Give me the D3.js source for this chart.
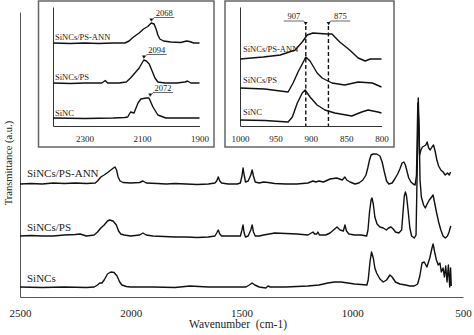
<!DOCTYPE html>
<html>
<head>
<meta charset="utf-8">
<script src="https://cdn.jsdelivr.net/npm/d3@7"></script>
<style>
  body { margin: 0; background: #fff; }
  text { font-family: "Liberation Serif", "Times New Roman", "DejaVu Serif", serif; fill: #222; }
</style>
</head>
<body>
<div id="chart"></div>
<script>
// full-range spectra, [wavenumber, transmittance a.u.]
var sincs = [[2500,10],[2400,9.5],[2300,10],[2200,9.5],[2165,10],[2150,12],[2140,14],[2130,14],[2120,17],[2105,23],[2090,25],[2075,24.5],[2062,21],[2050,15],[2040,12],[2020,10.5],[2000,10],[1900,10],[1800,9.5],[1733,11],[1650,10],[1550,10],[1480,10],[1465,12],[1452,14],[1440,12],[1420,10],[1390,9],[1380,11],[1370,10],[1300,10],[1250,10.5],[1200,11],[1150,12],[1110,14],[1080,15],[1050,15],[1020,14],[990,13],[960,12.5],[934,12],[928,17],[920,35],[913,45],[905,39],[898,29],[890,24],[875,18],[860,15],[845,17],[830,22],[820,20],[805,15],[785,13],[760,12],[740,11],[720,11],[705,13],[695,21],[685,34],[675,35],[663,30],[650,39],[640,49],[635,53],[628,45],[620,37],[612,32],[604,34],[598,25],[590,29],[584,20],[578,31],[572,15],[566,32],[560,10],[556,29],[553,11]];

var sincsPS = [[2500,61],[2450,61.5],[2400,61],[2350,61],[2300,62],[2250,62.5],[2229,63],[2200,61],[2165,62],[2150,65],[2135,69],[2120,72],[2105,76],[2095,77],[2080,76],[2065,72],[2055,66],[2045,63],[2030,62],[2000,61],[1960,62],[1945,64],[1930,62],[1900,61],[1850,60.5],[1800,60],[1750,60],[1700,59.5],[1650,60],[1620,61],[1612,64],[1605,67],[1598,63],[1590,61],[1560,61],[1530,61],[1505,61],[1498,67],[1493,72],[1488,64],[1482,60],[1470,61],[1458,67],[1452,72],[1446,65],[1438,61],[1420,61],[1400,62],[1350,64],[1300,63.5],[1250,63],[1200,62],[1177,65],[1170,63],[1160,63],[1155,65],[1148,62],[1120,62],[1100,64],[1069,70],[1055,67],[1040,66],[1033,72],[1026,66],[1015,63],[990,62],[960,62],[935,61],[929,67],[922,85],[915,97],[911,99],[905,93],[898,80],[888,73],[875,70],[860,69],[846,67],[836,69],[825,70],[815,68],[805,65],[790,64],[777,67],[770,87],[765,101],[760,105],[755,101],[748,87],[740,69],[732,61],[720,59],[712,62],[706,137],[702,199],[698,167],[694,117],[688,100],[678,92],[670,89],[662,93],[652,97],[645,99],[635,102],[628,94],[620,85],[610,75],[600,67],[590,61],[580,59],[570,61],[563,65],[558,69],[555,71]];

var sincsPSANN = [[2500,113],[2450,113.5],[2400,113],[2350,114],[2300,113.5],[2250,114],[2200,113.5],[2160,114],[2150,116],[2135,120],[2120,122],[2107,124],[2090,127],[2078,129],[2071,130],[2064,127],[2057,120],[2048,116],[2035,114.5],[2000,114],[1960,114.5],[1945,116],[1930,114],[1880,113.5],[1840,113],[1800,113.5],[1750,113],[1700,112.5],[1650,113],[1620,114],[1612,116],[1605,120],[1598,116],[1590,114],[1560,113],[1520,113],[1505,114],[1498,121],[1493,129],[1488,122],[1482,115],[1470,116],[1458,122],[1452,127],[1446,121],[1438,115],[1420,114],[1400,115],[1380,114.5],[1350,113.5],[1300,113],[1250,113],[1200,114],[1177,116],[1165,115],[1150,116],[1130,115],[1100,118],[1070,119],[1045,117],[1033,120],[1025,117],[1010,115],[988,113],[970,114],[952,117],[938,122],[930,129],[922,137],[915,142],[905,143],[890,143],[875,141],[865,135],[855,125],[845,116],[835,113],[820,114],[808,118],[795,123],[785,128],[775,134],[767,135],[760,132],[752,125],[745,119],[735,115],[725,113],[716,112],[710,122],[704,194],[700,177],[696,142],[690,147],[683,150],[675,151],[668,152],[662,155],[655,149],[648,147],[640,150],[633,152],[626,146],[618,137],[610,131],[600,127],[590,125],[580,122],[570,124],[562,122],[556,125]];

// Si-H stretching region
var shANN = [[2410,83],[2350,82.5],[2300,83],[2250,82.5],[2200,83],[2160,83],[2145,85],[2134,88],[2120,91],[2110,93],[2095,97],[2080,99.5],[2068,103],[2058,102],[2050,96],[2045,91],[2038,87],[2025,85],[2000,84],[1965,83.5],[1945,85],[1935,84.5],[1920,83],[1900,83]];
var shPS = [[2410,43],[2350,42.5],[2300,43],[2240,43],[2228,45.5],[2220,43],[2180,43],[2155,44],[2140,48],[2125,53],[2110,58],[2094,66],[2085,65],[2075,62],[2065,55],[2055,48],[2045,44],[2020,43],[1980,43],[1950,44],[1942,45],[1930,43],[1900,43]];
var shSiNC = [[2410,8],[2300,7.5],[2200,8],[2160,8.5],[2150,9],[2140,14],[2128,13],[2114,23],[2104,27],[2086,28],[2076,28],[2062,19],[2045,11],[2017,8],[1980,8],[1900,8]];

// Si-H2 bending region
var bdANN = [[1000,67],[967,69],[943,71],[922,76],[912,84],[905,91],[897,93],[877,92],[870,92],[859,84],[845,76],[833,68],[823,65],[816,67],[800,67]];
var bdPS = [[1000,38],[965,37],[932,34],[925,43],[918,54],[912,62],[907,69],[901,65],[891,53],[884,48],[870,43],[852,41],[833,44],[813,43],[800,39]];
var bdSiNC = [[1000,6],[965,5.5],[932,4],[926,9],[919,23],[912,33],[908,36],[901,29],[891,21],[880,16],[866,13],[842,10],[828,14],[819,16],[805,14],[800,13]];

var mainTicks = [2500, 2000, 1500, 1000, 500];
var shTicks = [2300, 2100, 1900];
var bdTicks = [1000, 950, 900, 850, 800];
var shPeaks = [[2068, 103], [2094, 66], [2072, 28]];
var bdLines = [907, 875];

var width = 474, height = 335;
var svg = d3.select("#chart").append("svg")
    .attr("width", width).attr("height", height);

var x = d3.scaleLinear().domain([2500, 500]).range([20, 463]);
var y = d3.scaleLinear().domain([0, 285]).range([297, 12]);

var line = function (sx, sy) {
    return d3.line().x(function (d) { return sx(d[0]); }).y(function (d) { return sy(d[1]); });
};

function curve(g, data, sx, sy) {
    g.append("path").datum(data)
        .attr("d", line(sx, sy))
        .attr("fill", "none")
        .attr("stroke", "#111")
        .attr("stroke-width", 1.4)
        .attr("stroke-linejoin", "round");
}

// main axes
var xAxis = svg.append("g").attr("transform", "translate(0," + y(0) + ")")
    .call(d3.axisBottom(x).tickValues(mainTicks).tickSize(0).tickPadding(12).tickFormat(d3.format("d")));
xAxis.select(".domain").attr("stroke", "#555");
xAxis.selectAll("text").attr("font-size", 11).attr("fill", "#222");

var yAxis = svg.append("g").attr("transform", "translate(" + x(2500) + ",0)")
    .call(d3.axisLeft(y).tickValues([]).tickSizeOuter(0));
yAxis.select(".domain").attr("stroke", "#555");

svg.append("text").attr("x", 238).attr("y", 328).attr("text-anchor", "middle")
    .attr("font-size", 11.5).attr("xml:space", "preserve").text("Wavenumber  (cm-1)");
svg.append("text").attr("transform", "translate(12,163) rotate(-90)")
    .attr("text-anchor", "middle").attr("font-size", 10.5).text("Transmittance (a.u.)");

[sincs, sincsPS, sincsPSANN].forEach(function (s) { curve(svg, s, x, y); });
[["SiNCs/PS-ANN", 177], ["SiNCs/PS", 231], ["SiNCs", 282]].forEach(function (l) {
    svg.append("text").attr("x", 27).attr("y", l[1]).attr("font-size", 11).text(l[0]);
});

// insets
var iy = d3.scaleLinear().domain([0, 119]).range([126, 7]);

function inset(box, sx, ticks, series, labels, labelX) {
    var g = svg.append("g");
    g.append("rect").attr("x", box[0]).attr("y", box[1]).attr("width", box[2]).attr("height", box[3])
        .attr("fill", "#fff").attr("stroke", "#666").attr("stroke-width", 1.5);
    var ax = g.append("g").attr("transform", "translate(0," + iy(0) + ")")
        .call(d3.axisBottom(sx).tickValues(ticks).tickSize(0).tickPadding(10).tickSizeOuter(0).tickFormat(d3.format("d")));
    ax.select(".domain").attr("stroke", "#333");
    ax.selectAll("text").attr("font-size", 9).attr("fill", "#222");
    var ay = g.append("g").attr("transform", "translate(" + sx.range()[0] + ",0)")
        .call(d3.axisLeft(iy).tickValues([]).tickSizeOuter(0));
    ay.select(".domain").attr("stroke", "#333");
    series.forEach(function (s) { curve(g, s, sx, iy); });
    labels.forEach(function (l) {
        g.append("text").attr("x", labelX).attr("y", l[1]).attr("font-size", 8.5).text(l[0]);
    });
    return g;
}

function tri(g, px, py) {
    g.append("path").attr("d", "M" + (px - 1.8) + "," + (py - 3) + "L" + (px + 1.8) + "," + (py - 3) + "L" + px + "," + py + "Z")
        .attr("fill", "#111");
}

var sx1 = d3.scaleLinear().domain([2410, 1900]).range([53, 199.5]);
var g1 = inset([38.5, 1, 175.5, 146], sx1, shTicks, [shANN, shPS, shSiNC],
    [["SiNCs/PS-ANN", 40], ["SiNCs/PS", 80], ["SiNC", 116]], 55);

shPeaks.forEach(function (p) {
    var tx = sx1(p[0]), ty = iy(p[1]) - 1.5;
    g1.append("path").attr("d", "M" + tx + "," + ty + "L" + (tx + 3) + "," + (ty - 4) + "L" + (tx + 23) + "," + (ty - 4))
        .attr("fill", "none").attr("stroke", "#444").attr("stroke-width", 0.8);
    tri(g1, tx, ty);
    g1.append("text").attr("x", tx + 13).attr("y", ty - 5.5).attr("text-anchor", "middle")
        .attr("font-size", 8.5).text(p[0]);
});

var sx2 = d3.scaleLinear().domain([1000, 800]).range([240, 381.5]);
var g2 = inset([225, 1, 169, 146], sx2, bdTicks, [bdANN, bdPS, bdSiNC],
    [["SiNCs/PS-ANN", 52], ["SiNCs/PS", 83], ["SiNC", 115]], 243);

bdLines.forEach(function (w, i) {
    var tx = sx2(w), ty = 25;
    g2.append("line").attr("x1", tx).attr("x2", tx).attr("y1", ty + 1).attr("y2", iy(0))
        .attr("stroke", "#111").attr("stroke-width", 1.4).attr("stroke-dasharray", "4,2.5");
    var dir = i === 0 ? -1 : 1;
    g2.append("path").attr("d", "M" + tx + "," + ty + "L" + (tx + dir * 2) + "," + (ty - 4) + "L" + (tx + dir * 22) + "," + (ty - 4))
        .attr("fill", "none").attr("stroke", "#444").attr("stroke-width", 0.8);
    tri(g2, tx, ty);
    g2.append("text").attr("x", tx + dir * 12).attr("y", ty - 6).attr("text-anchor", "middle")
        .attr("font-size", 8.5).text(w);
});
</script>
</body>
</html>
